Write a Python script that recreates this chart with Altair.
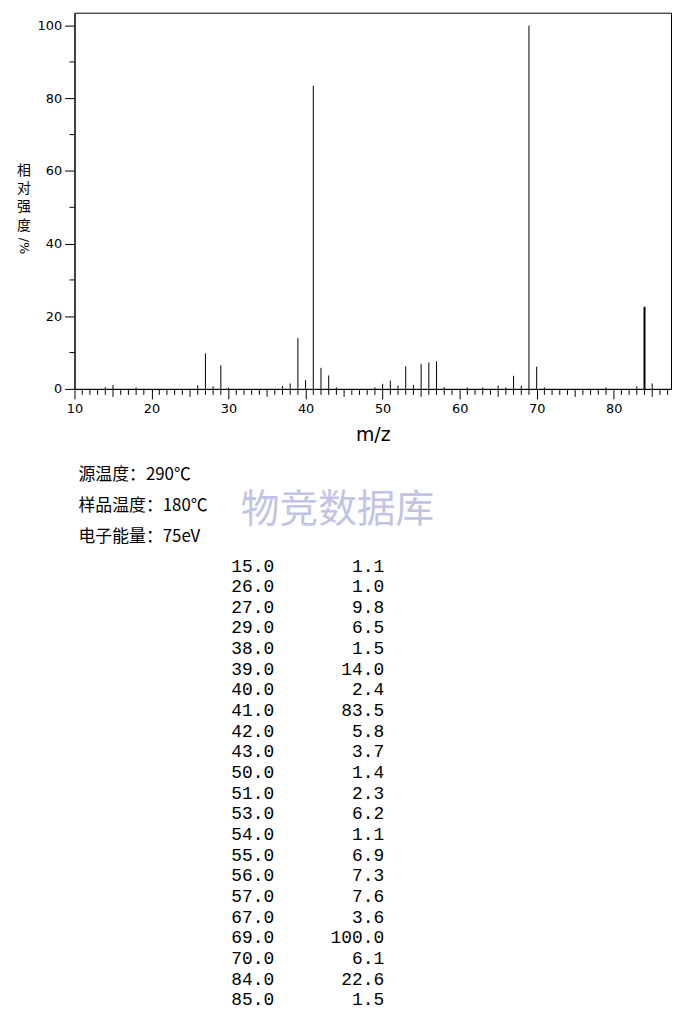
import altair as alt
import pandas as pd

# ---- data ----
mz = [15, 26, 27, 29, 38, 39, 40, 41, 42, 43, 50, 51, 53, 54, 55, 56, 57, 67, 69, 70, 84, 85]
intensity = [1.1, 1.0, 9.8, 6.5, 1.5, 14.0, 2.4, 83.5, 5.8, 3.7, 1.4, 2.3, 6.2, 1.1, 6.9, 7.3, 7.6, 3.6, 100.0, 6.1, 22.6, 1.5]
# small unlisted peaks (<1%)
minor_mz = [14, 18, 28, 30, 37, 44, 49, 52, 58, 61, 63, 65, 66, 68, 71, 79, 83]
minor_int = [0.5, 0.4, 0.7, 0.4, 0.8, 0.4, 0.4, 0.9, 0.5, 0.4, 0.4, 0.9, 0.4, 0.9, 0.4, 0.4, 0.7]
x_major = [10, 20, 30, 40, 50, 60, 70, 80]
y_major = [0, 20, 40, 60, 80, 100]
y_minor = [10, 30, 50, 70, 90]
x_fives = [15, 25, 35, 45, 55, 65, 75, 85]
x_units = [v for v in range(11, 88) if v % 5 != 0]
info_lines = ["源温度：290℃", "样品温度：180℃", "电子能量：75eV"]
ytitle_chars = ["相", "对", "强", "度"]
watermark = "物竞数据库"

W, H = 601, 379
XD = [10, 87.44]
YD = [0, 103.55]

peaks = pd.DataFrame({"mz": mz + minor_mz, "inten": intensity + minor_int})
table = pd.DataFrame({
    "row": list(range(len(mz))),
    "m": [f"{v:.1f}" for v in mz],
    "i": [f"{v:.1f}" for v in intensity],
})

xs = alt.Scale(domain=XD, nice=False, zero=False)
ys = alt.Scale(domain=YD, nice=False, zero=True)

bars = alt.Chart(peaks).mark_rule(color="black").encode(
    x=alt.X("mz:Q", scale=xs, axis=alt.Axis(
        values=x_major, tickSize=10, labelPadding=4, title="m/z", labelFlush=False,
        titleFontSize=19, titleFont="DejaVu Sans", titleFontWeight="normal",
        titlePadding=10, labelFont="DejaVu Sans", labelFontSize=13,
        labelColor="black", grid=False, tickColor="black", domainColor="black")),
    y=alt.Y("inten:Q", scale=ys, axis=alt.Axis(
        values=y_major, tickSize=10, labelPadding=3, title=None, labelFlush=False,
        labelFont="DejaVu Sans", labelFontSize=13, labelColor="black",
        grid=False, tickColor="black", domainColor="black")),
    y2=alt.datum(0),
    strokeWidth=alt.condition("datum.mz == 84", alt.value(2), alt.value(1)),
)

xt_units = alt.Chart(pd.DataFrame({"t": x_units})).mark_rule(color="black").encode(
    x=alt.X("t:Q", scale=xs), y=alt.value(H), y2=alt.value(H + 6))
xt_fives = alt.Chart(pd.DataFrame({"t": x_fives})).mark_rule(color="black").encode(
    x=alt.X("t:Q", scale=xs), y=alt.value(H), y2=alt.value(H + 8))
yt_minor = alt.Chart(pd.DataFrame({"t": y_minor})).mark_rule(color="black").encode(
    y=alt.Y("t:Q", scale=ys, axis=None), x=alt.value(-5), x2=alt.value(0))

ytitle = alt.Chart(pd.DataFrame({"c": ytitle_chars, "k": list(range(4))})).mark_text(
    font="Noto Sans CJK SC", fontSize=14, color="black", baseline="middle", align="center"
).encode(
    x=alt.value(-51),
    y=alt.Y("k:Q", scale=alt.Scale(domain=[0, 3], range=[159, 214.5]), axis=None),
    text="c:N")
ytitle_pct = alt.Chart(pd.DataFrame({"c": ["/%"]})).mark_text(
    font="DejaVu Sans", fontSize=13, color="black", baseline="middle", align="center", angle=90
).encode(x=alt.value(-51), y=alt.value(235), text="c:N")

info = alt.Chart(pd.DataFrame({"t": info_lines, "k": [0, 1, 2]})).mark_text(
    font="Noto Sans CJK SC", fontSize=17, color="black", baseline="middle", align="left"
).encode(
    x=alt.value(4),
    y=alt.Y("k:Q", scale=alt.Scale(domain=[0, 2], range=[466, 528]), axis=None),
    text="t:N")

wm = alt.Chart(pd.DataFrame({"t": [watermark]})).mark_text(
    font="Noto Sans CJK SC", fontSize=39, color="#c3c3e6", baseline="middle", align="center"
).encode(x=alt.value(265), y=alt.value(501), text="t:N")

trow = alt.Scale(domain=[0, len(mz) - 1], range=[558, 995])
tcol1 = alt.Chart(table).mark_text(
    font="Liberation Mono", fontSize=18, color="black", baseline="middle", align="left"
).encode(x=alt.value(158), y=alt.Y("row:Q", scale=trow, axis=None), text="m:N")
tcol2 = alt.Chart(table).mark_text(
    font="Liberation Mono", fontSize=18, color="black", baseline="middle", align="right"
).encode(x=alt.value(312), y=alt.Y("row:Q", scale=trow, axis=None), text="i:N")

chart = alt.layer(
    bars, xt_units, xt_fives, yt_minor, ytitle, ytitle_pct, info, wm, tcol1, tcol2
).resolve_scale(y="independent").properties(
    width=W, height=H,
    autosize=alt.AutoSizeParams(type="none"),
    padding={"left": 67, "top": 1, "right": 1, "bottom": 1002 - H - 1},
).configure(background="white").configure_view(stroke="black", strokeWidth=1)

chart.save("out.html", embed_options={"renderer": "svg", "actions": False})
